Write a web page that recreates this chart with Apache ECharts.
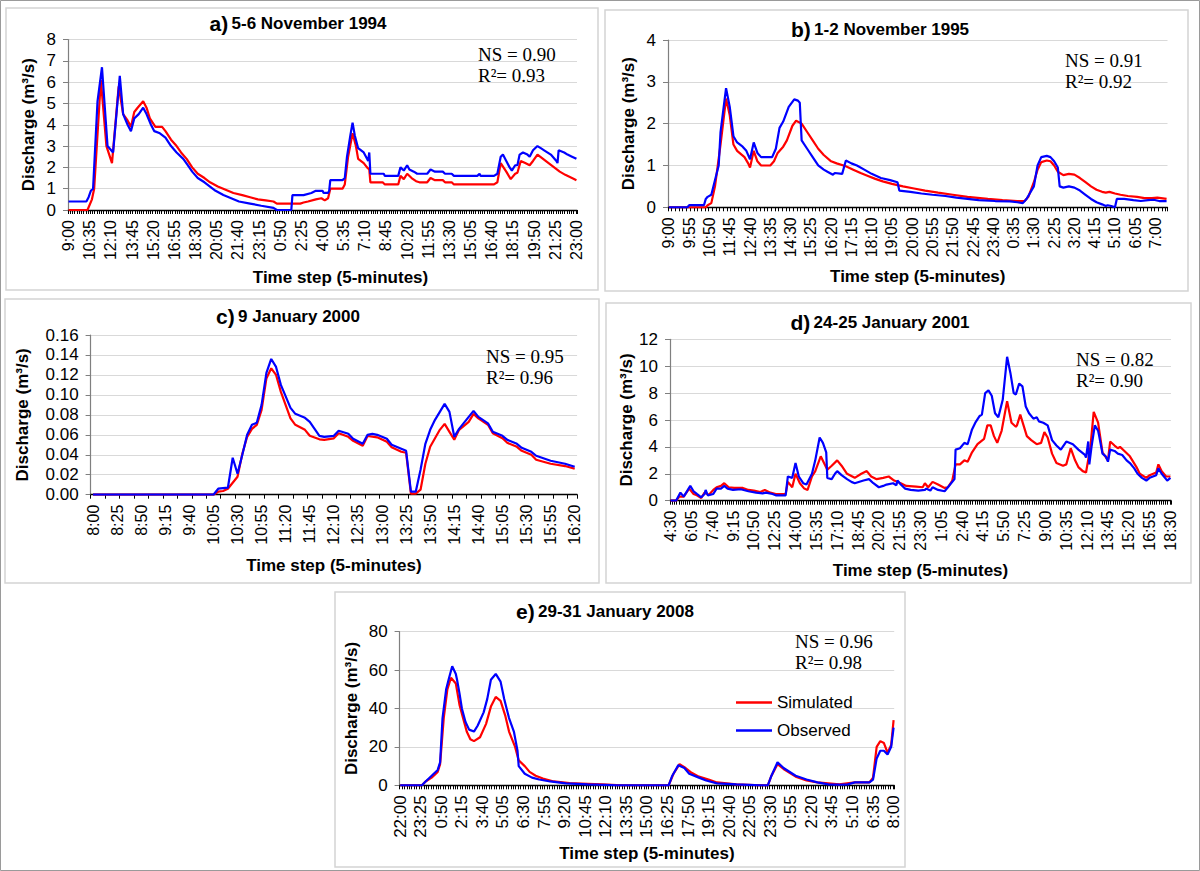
<!DOCTYPE html>
<html><head><meta charset="utf-8">
<script src="https://cdn.jsdelivr.net/npm/echarts@6/dist/echarts.min.js"></script>
<style>html,body{margin:0;padding:0;background:#fff}#c{width:1200px;height:871px}</style>
</head><body><div id="c"></div>
<script>
// ---------- data (x = index of 5-minute time step, y = discharge m3/s) ----------
const startA = '9:00', countA = 457;
const startB = '9:00', countB = 271;
const startC = '8:00', countC = 101;
const startD = '4:30', countD = 457;
const startE = '22:00', countE = 409;

const obsA = [[0,0.4],[16,0.4],[18,0.6],[20,0.9],[22,1.0],[26,5.1],[30,6.7],[35,3.0],[40,2.7],[46,6.3],[49,4.5],[53,4.0],[56,3.7],[59,4.3],[63,4.5],[67,4.8],[70,4.5],[74,4.0],[77,3.7],[82,3.6],[87,3.4],[92,3.0],[97,2.7],[103,2.4],[107,2.1],[111,1.8],[116,1.5],[122,1.3],[127,1.1],[132,0.9],[139,0.7],[146,0.55],[153,0.4],[163,0.3],[173,0.2],[184,0.1],[187,0],[200,0],[201,0.7],[211,0.7],[218,0.8],[222,0.9],[228,0.9],[229,0.8],[233,0.8],[234,0.9],[235,1.4],[246,1.4],[248,1.5],[250,2.5],[253,3.5],[255,4.1],[257,3.5],[260,2.9],[265,2.7],[268,2.4],[269,2.3],[270,2.7],[271,1.7],[283,1.7],[284,1.6],[296,1.6],[298,2.0],[301,1.85],[304,2.1],[306,1.9],[310,1.8],[313,1.7],[322,1.7],[325,1.9],[329,1.8],[336,1.8],[338,1.7],[344,1.7],[346,1.6],[367,1.6],[369,1.7],[370,1.6],[382,1.6],[385,1.7],[388,2.5],[390,2.6],[393,2.3],[396,2.0],[398,1.85],[401,2.1],[403,2.1],[405,2.6],[408,2.7],[412,2.6],[414,2.5],[417,2.8],[421,3.0],[424,2.9],[427,2.8],[433,2.6],[438,2.3],[439,2.2],[440,2.8],[445,2.7],[448,2.6],[452,2.5],[456,2.4]];
const simA = [[0,0],[17,0],[21,0.5],[23,1.0],[27,4.4],[29,6.1],[34,3.0],[39,2.2],[45,5.8],[49,4.5],[53,4.2],[56,3.9],[59,4.6],[62,4.8],[67,5.1],[70,4.8],[73,4.3],[78,3.9],[84,3.9],[87,3.7],[92,3.3],[97,3.0],[101,2.7],[106,2.4],[111,2.0],[116,1.7],[122,1.5],[127,1.3],[134,1.1],[141,0.95],[148,0.8],[156,0.7],[163,0.6],[170,0.5],[177,0.45],[184,0.4],[187,0.3],[208,0.3],[211,0.35],[215,0.4],[222,0.5],[227,0.55],[230,0.45],[233,0.55],[235,1.0],[246,1.0],[248,1.2],[251,2.5],[255,3.6],[258,3.0],[260,2.4],[265,2.2],[268,2.0],[270,1.9],[271,1.3],[282,1.3],[284,1.2],[296,1.2],[298,1.6],[301,1.45],[304,1.7],[308,1.5],[312,1.35],[315,1.3],[322,1.3],[325,1.5],[329,1.4],[336,1.4],[338,1.3],[344,1.3],[346,1.2],[382,1.2],[385,1.3],[388,2.2],[393,1.8],[397,1.45],[401,1.7],[403,1.75],[406,2.3],[410,2.2],[414,2.1],[417,2.3],[421,2.6],[426,2.4],[431,2.2],[436,2.0],[441,1.8],[446,1.65],[452,1.5],[456,1.4]];

const obsB = [[0,0],[10,0],[11,0.05],[19,0.05],[20,0.2],[21,0.25],[23,0.3],[27,1.0],[28,1.8],[31,2.85],[33,2.4],[35,1.7],[37,1.55],[40,1.45],[42,1.35],[44,1.15],[46,1.55],[48,1.3],[50,1.2],[56,1.2],[58,1.4],[60,1.9],[62,2.05],[65,2.4],[68,2.58],[70,2.55],[71,2.5],[72,1.6],[75,1.4],[78,1.2],[81,1.0],[84,0.9],[86,0.85],[89,0.78],[90,0.82],[94,0.8],[96,1.12],[99,1.05],[102,1.0],[106,0.9],[110,0.8],[115,0.7],[120,0.65],[124,0.6],[125,0.4],[131,0.37],[137,0.33],[143,0.3],[150,0.27],[156,0.23],[162,0.2],[168,0.17],[177,0.15],[185,0.14],[189,0.12],[192,0.1],[194,0.2],[198,0.5],[200,1.0],[202,1.2],[205,1.23],[207,1.2],[209,1.1],[211,0.95],[212,0.5],[214,0.47],[217,0.5],[220,0.47],[223,0.4],[226,0.3],[229,0.2],[232,0.12],[235,0.07],[237,0.03],[238,0.05],[240,0.03],[242,0],[243,0.2],[247,0.2],[252,0.17],[256,0.15],[260,0.17],[263,0.18],[266,0.15],[270,0.15]];
const simB = [[0,0],[20,0],[21,0.05],[23,0.1],[25,0.5],[28,1.5],[31,2.6],[33,2.2],[35,1.5],[37,1.35],[41,1.2],[43,1.05],[44,0.95],[46,1.35],[48,1.1],[50,1.0],[55,1.0],[57,1.1],[59,1.3],[62,1.45],[64,1.6],[67,1.95],[69,2.07],[72,2.0],[75,1.8],[78,1.6],[81,1.4],[84,1.25],[88,1.1],[91,1.05],[96,0.98],[100,0.9],[104,0.82],[108,0.75],[112,0.68],[116,0.62],[121,0.56],[127,0.5],[133,0.45],[139,0.4],[146,0.35],[154,0.3],[162,0.25],[173,0.2],[181,0.17],[189,0.15],[193,0.15],[195,0.25],[198,0.6],[200,0.9],[202,1.08],[205,1.12],[207,1.1],[209,1.0],[211,0.85],[214,0.77],[217,0.8],[220,0.78],[223,0.7],[226,0.6],[229,0.5],[232,0.42],[235,0.37],[237,0.35],[239,0.37],[242,0.33],[245,0.3],[249,0.27],[254,0.25],[258,0.22],[262,0.22],[265,0.23],[267,0.22],[270,0.2]];

const obsC = [[0,0],[25,0],[26,0.006],[28,0.007],[29,0.037],[30,0.021],[31,0.04],[32,0.06],[33,0.07],[34,0.072],[35,0.09],[36,0.122],[37,0.136],[38,0.128],[39,0.11],[41,0.087],[42,0.081],[44,0.077],[45,0.073],[46,0.066],[47,0.059],[48,0.058],[50,0.059],[51,0.064],[53,0.061],[54,0.056],[56,0.051],[57,0.06],[58,0.061],[59,0.06],[61,0.056],[62,0.05],[64,0.046],[65,0.044],[66,0.003],[67,0.003],[68,0.025],[69,0.051],[70,0.065],[71,0.075],[72,0.083],[73,0.091],[74,0.083],[75,0.058],[76,0.066],[78,0.078],[79,0.084],[80,0.078],[82,0.0715],[83,0.063],[85,0.059],[86,0.055],[88,0.051],[89,0.047],[91,0.043],[92,0.039],[95,0.034],[98,0.031],[100,0.028]];
const simC = [[0,0],[25,0],[26,0.003],[27,0.0037],[28,0.006],[30,0.018],[31,0.041],[32,0.058],[33,0.066],[34,0.07],[35,0.085],[36,0.1165],[37,0.1266],[38,0.12],[39,0.103],[41,0.0765],[42,0.07],[44,0.065],[45,0.059],[47,0.0555],[48,0.055],[50,0.0565],[51,0.0615],[53,0.058],[54,0.054],[56,0.049],[57,0.0588],[59,0.0575],[61,0.053],[62,0.0475],[64,0.043],[65,0.042],[66,0.001],[67,0.001],[68,0.005],[69,0.031],[70,0.048],[71,0.0565],[72,0.065],[73,0.071],[74,0.063],[75,0.055],[76,0.065],[78,0.073],[79,0.081],[80,0.0765],[82,0.07],[83,0.0615],[85,0.0565],[86,0.052],[88,0.048],[89,0.044],[91,0.04],[92,0.035],[95,0.031],[98,0.0287],[100,0.026]];

const obsD = [[0,0],[5,0],[9,0.6],[12,0.3],[18,1.1],[21,0.7],[24,0.5],[28,0.25],[31,0.5],[32,0.8],[34,0.4],[39,0.5],[42,0.9],[46,0.9],[49,1.1],[52,0.9],[57,0.8],[64,0.85],[71,0.7],[78,0.6],[84,0.55],[87,0.6],[93,0.5],[96,0.4],[105,0.4],[107,1.8],[111,1.7],[114,2.8],[117,1.8],[121,1.3],[124,1.2],[129,2.0],[132,3.0],[136,4.7],[139,4.3],[142,3.6],[143,1.7],[147,1.6],[150,2.0],[152,2.2],[156,1.9],[161,1.6],[165,1.4],[168,1.3],[176,1.5],[181,1.6],[185,1.3],[190,1.0],[194,1.1],[197,1.2],[203,1.3],[206,1.15],[207,1.5],[210,1.2],[214,0.9],[219,0.8],[226,0.75],[232,0.8],[233,0.9],[237,0.75],[239,1.0],[244,0.8],[250,0.7],[253,1.0],[259,1.6],[260,3.8],[264,3.9],[268,4.3],[271,4.2],[275,5.3],[278,5.8],[282,6.3],[284,6.4],[287,8.0],[290,8.2],[293,7.8],[296,6.5],[299,6.2],[303,7.5],[307,10.7],[310,9.5],[313,8.0],[315,7.9],[318,8.7],[321,8.5],[324,7.0],[327,6.5],[331,6.1],[334,6.2],[336,5.9],[340,5.8],[344,5.6],[348,4.5],[352,4.1],[356,3.8],[361,4.4],[367,4.2],[372,3.8],[378,3.4],[379,3.2],[381,4.4],[382,2.7],[384,4.0],[387,5.6],[390,5.2],[391,4.8],[394,3.5],[397,3.3],[399,2.9],[401,3.8],[405,3.7],[408,3.5],[412,3.4],[416,3.0],[419,2.8],[423,2.4],[426,2.0],[430,1.7],[434,1.5],[437,1.7],[443,1.9],[445,2.4],[448,2.0],[452,1.6],[453,1.5],[456,1.7]];
const simD = [[0,0],[5,0],[8,0.3],[12,0.3],[17,0.9],[21,0.5],[24,0.4],[28,0.2],[31,0.6],[35,0.45],[39,0.8],[42,1.0],[46,1.1],[49,1.3],[53,1.0],[58,0.95],[66,0.95],[71,0.8],[76,0.75],[82,0.65],[86,0.8],[91,0.6],[96,0.5],[105,0.5],[107,1.4],[111,1.0],[114,2.0],[118,1.3],[122,0.9],[125,0.8],[129,1.8],[132,2.2],[137,3.3],[140,2.8],[143,2.3],[147,2.6],[152,3.0],[156,2.6],[161,2.0],[168,1.7],[174,2.0],[179,2.2],[183,1.8],[188,1.6],[194,1.7],[199,1.8],[204,1.5],[210,1.3],[215,1.1],[224,1.05],[230,1.0],[232,1.3],[235,1.0],[239,1.4],[244,1.2],[250,0.95],[253,1.0],[257,1.5],[260,2.7],[264,2.7],[268,3.0],[271,2.9],[275,3.6],[280,4.2],[286,4.6],[289,5.6],[292,5.6],[295,4.8],[298,4.3],[302,5.2],[307,7.4],[311,5.8],[315,5.5],[316,5.6],[319,6.4],[322,5.6],[325,4.8],[329,4.5],[334,4.2],[338,4.3],[341,5.1],[344,4.7],[348,3.5],[352,2.8],[358,2.6],[361,2.7],[365,3.9],[369,3.0],[372,2.5],[376,2.2],[379,2.1],[383,4.0],[386,6.6],[390,5.8],[394,3.6],[399,3.0],[401,4.4],[405,4.1],[408,3.9],[410,4.0],[414,3.7],[419,3.3],[425,2.5],[428,2.0],[434,1.7],[437,1.9],[443,2.1],[445,2.7],[448,2.2],[452,1.8],[456,1.8]];

const obsE = [[0,0],[18,0],[21,2],[26,5],[31,8],[33,12],[35,35],[38,50],[40,55],[43,62],[46,58],[47,55],[49,48],[51,40],[54,33],[57,29],[61,28],[64,31],[69,38],[72,45],[75,55],[79,58],[83,54],[86,45],[90,35],[94,28],[97,18],[98,10],[103,6],[109,4],[115,3],[124,2],[137,1],[155,0.5],[164,0.3],[179,0],[222,0],[225,5],[230,10.5],[235,9],[239,6],[247,4],[253,2.5],[262,1],[278,0.5],[298,0],[304,0],[307,5],[312,12],[317,9],[327,5],[336,3],[345,1.5],[354,0.5],[363,0.3],[370,0.5],[376,1.5],[388,1.5],[391,3],[394,14],[397,18],[400,18],[403,16],[406,20],[408,30]];
const simE = [[0,0],[18,0],[21,2],[26,4],[31,7],[33,11],[36,35],[39,50],[42,56],[46,53],[49,42],[52,35],[55,28],[58,24],[61,23],[66,25],[71,32],[75,41],[79,46],[83,44],[87,36],[90,28],[95,20],[98,13],[103,10],[107,7],[112,5],[118,3.5],[127,2],[140,1.2],[155,0.8],[167,0.5],[183,0],[222,0],[226,6],[231,11],[236,9],[241,6.5],[247,4.5],[255,3],[262,1.5],[278,0.5],[298,0],[304,0],[307,5],[312,11],[317,8.5],[327,4.5],[336,2.5],[345,1.5],[354,1],[363,0.5],[376,1.5],[388,1.5],[391,4],[394,20],[397,23],[400,22],[403,17],[406,21],[408,34]];

const titles = [['a)','5-6 November 1994'],['b)','1-2 November 1995'],['c)','9 January 2000'],['d)','24-25 January 2001'],['e)','29-31 January 2008']];
const nsValues = ['0.90','0.91','0.95','0.82','0.96'];
const r2Values = ['0.93','0.92','0.96','0.90','0.98'];
const yMax = [8, 4, 0.16, 12, 80];
const yStep = [1, 1, 0.02, 2, 20];
const seriesNames = ['Simulated','Observed'];

// ---------- helpers ----------
function makeTimes(start, n){
  const p = start.split(':').map(Number); const t0 = p[0]*60+p[1]; const out=[];
  for(let i=0;i<n;i++){ const t=(t0+5*i)%1440; out.push(Math.floor(t/60)+':'+String(t%60).padStart(2,'0')); }
  return out;
}
const cats = [makeTimes(startA,countA), makeTimes(startB,countB), makeTimes(startC,countC), makeTimes(startD,countD), makeTimes(startE,countE)];
const sims = [simA, simB, simC, simD, simE];
const obss = [obsA, obsB, obsC, obsD, obsE];

// ---------- layout ----------
const SANS = "'Liberation Sans', Arial, Helvetica, sans-serif";
const SERIF = "'Liberation Serif', 'Times New Roman', serif";
const grids = [
  {left:68, top:39.5, width:509, height:170.5},
  {left:668, top:40, width:499.5, height:167.3},
  {left:90.6, top:335, width:486.5, height:159.7},
  {left:670, top:339.3, width:501, height:161.4},
  {left:399.6, top:631.7, width:494.6, height:153.6}
];
const labelInt = [18, 10, 4, 18, 16];
const tickInt = [1, 1, 2, 1, 1];
const xLabelSize = [16, 16, 16, 16, 17];
const yNameGap = [31, 31, 60, 34, 40];
const xNameGap = [59, 61, 62, 61, 60];
const boxes = [[6,8,592,282],[605,10,583,281],[5,299,594,284],[606,303,585,280],[335,592,570,275]];
const titlePos = [[298,23],[880,29],[288,316],[880,322],[605,611]];
const nsPos = [[478,54.5],[1065,60],[486,356],[1076,359.5],[795,641.5]];

const option = {
  animation:false,
  backgroundColor:'#fff',
  grid: grids.map(g=>Object.assign({outerBoundsMode:'none', containLabel:false}, g)),
  xAxis: grids.map((g,i)=>({
    type:'category', gridIndex:i, data:cats[i], boundaryGap:true,
    axisLine:{lineStyle:{color:'#000', width:1.3}},
    axisTick:{show:true, interval:tickInt[i], length:4, lineStyle:{color:'#000', width:1}},
    axisLabel:{interval:labelInt[i], rotate:90, fontSize:xLabelSize[i], fontFamily:SANS, color:'#000', margin:10},
    splitLine:{show:false},
    name:'Time step (5-minutes)', nameLocation:'middle', nameGap:xNameGap[i],
    nameTextStyle:{fontSize:17, fontWeight:'bold', fontFamily:SANS, color:'#000', padding: i===0?[0,0,0,36]:0}
  })),
  yAxis: grids.map((g,i)=>({
    type:'value', gridIndex:i, min:0, max:yMax[i], interval:yStep[i],
    axisLine:{show:true, lineStyle:{color:'#7f7f7f', width:1.2}},
    axisTick:{show:true, length:5, lineStyle:{color:'#7f7f7f'}},
    axisLabel:{fontSize:17, fontFamily:SANS, color:'#000', margin:12,
      formatter: i===2 ? (v=>v.toFixed(2)) : (v=>String(v))},
    splitLine:{show:true, lineStyle:{color:'#d9d9d9', width:1}},
    name:'Discharge (m³/s)', nameLocation:'middle', nameGap:yNameGap[i],
    nameTextStyle:{fontSize:17, fontWeight:'bold', fontFamily:SANS, color:'#000'}
  })),
  legend:{
    data:seriesNames, orient:'vertical', left:731, top:689,
    icon:'rect', itemWidth:36, itemHeight:2.5, itemGap:11,
    textStyle:{fontSize:17, fontFamily:SANS, color:'#000'}
  },
  series: [],
  graphic: []
};
for(let i=0;i<5;i++){
  option.series.push({type:'line', name:seriesNames[0], xAxisIndex:i, yAxisIndex:i, data:sims[i],
    symbol:'none', lineStyle:{width:2.2, color:'#ff0000'}, itemStyle:{color:'#ff0000'}, z:2});
  option.series.push({type:'line', name:seriesNames[1], xAxisIndex:i, yAxisIndex:i, data:obss[i],
    symbol:'none', lineStyle:{width:2.2, color:'#0000ff'}, itemStyle:{color:'#0000ff'}, z:3});
}
option.graphic.push({type:'rect', shape:{x:0.5,y:0.5,width:1199,height:870}, style:{fill:'none', stroke:'#9a9a9a', lineWidth:1}, silent:true, z:-10});
boxes.forEach(b=>option.graphic.push({type:'rect', shape:{x:b[0],y:b[1],width:b[2],height:b[3]}, style:{fill:'none', stroke:'#d4d4d4', lineWidth:1.5}, silent:true, z:-9}));
titles.forEach((t,i)=>option.graphic.push({type:'text', x:titlePos[i][0], y:titlePos[i][1], silent:true, z:100,
  style:{text:'{a|'+t[0]+'} {b|'+t[1]+'}', align:'center', verticalAlign:'middle', fill:'#000',
    rich:{a:{fontSize:21, fontWeight:'bold', fontFamily:SANS, fill:'#000'}, b:{fontSize:17, fontWeight:'bold', fontFamily:SANS, fill:'#000'}}}}));
nsValues.forEach((v,i)=>{
  option.graphic.push({type:'text', x:nsPos[i][0], y:nsPos[i][1], silent:true, z:100,
    style:{text:'NS = '+v, fontSize:19, fontFamily:SERIF, fill:'#000', align:'left', verticalAlign:'middle'}});
  option.graphic.push({type:'text', x:nsPos[i][0], y:nsPos[i][1]+21, silent:true, z:100,
    style:{text:'R²= '+r2Values[i], fontSize:19, fontFamily:SERIF, fill:'#000', align:'left', verticalAlign:'middle'}});
});
const chart = echarts.init(document.getElementById('c'), null, {renderer:'svg'});
chart.setOption(option);
</script></body></html>
